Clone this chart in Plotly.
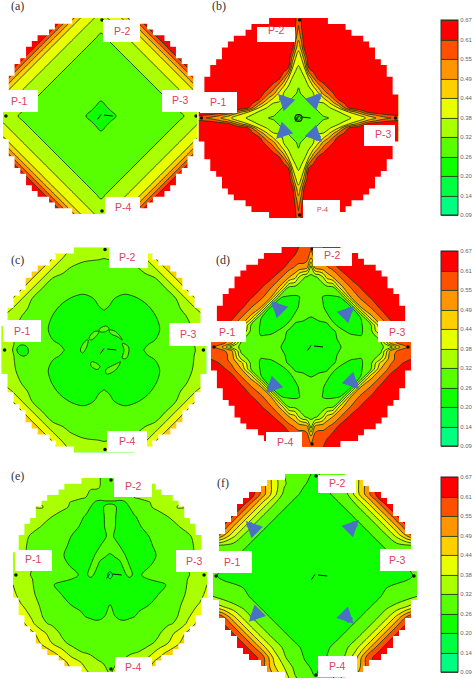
import plotly.graph_objects as go

W, H = 474, 685

BAND_COLORS = ["#00ff80", "#00ff40", "#10ff00", "#58ff00", "#aaff00",
               "#e8ff00", "#ffd000", "#ff9500", "#ff5000", "#ff0000"]
LEVEL_START, LEVEL_END, LEVEL_STEP = 0.09, 0.67, 0.058
TICK_LABELS = ["0.09", "0.14", "0.20", "0.26", "0.32", "0.38", "0.44", "0.49", "0.55", "0.61", "0.67"]

# stepped rim of each disc: half-width (in cells of 1/17) of the rows, centre to top
RIM_HALF_WIDTHS = [17, 17, 17, 17, 16, 16, 16, 15, 15, 14, 13, 13, 12, 11, 9, 8, 5]

# --- panel (a): values read in hundredths, rows v=0..1, columns u=0..1
A_NODES = [0, .1, .2, .3, .4, .5, .6, .7, .8, .9, 1]
A_VALUES = [
    [24, 25.7, 27, 27.5, 28, 29, 29.5, 30.5, 31.5, 33, 36],
    [25.7, 27, 27.5, 28, 29, 29.5, 30.5, 31.5, 33, 36, 39],
    [27, 27.5, 28, 29, 29.5, 30.5, 31.5, 33, 36, 39, 43],
    [27.5, 28, 29, 29.5, 30.5, 31.5, 33, 36, 39, 43, 52],
    [28, 29, 29.5, 30.5, 31.5, 33, 36, 39, 43, 52, 64],
    [29, 29.5, 30.5, 31.5, 33, 36, 39, 43, 52, 64, 66],
    [29.5, 30.5, 31.5, 33, 36, 39, 43, 52, 64, 66, 66],
    [30.5, 31.5, 33, 36, 39, 43, 52, 64, 66, 66, 66],
    [31.5, 33, 36, 39, 43, 52, 64, 66, 66, 66, 66],
    [33, 36, 39, 43, 52, 64, 66, 66, 66, 66, 66],
    [36, 39, 43, 52, 64, 66, 66, 66, 66, 66, 66],
]

# --- panel (b)
B_NODES = [0, .03, .06, .1, .15, .2, .25, .3, .4, .5, .6, .7, .8, .9, 1]
B_VALUES = [
    [26, 26.5, 27, 28, 29, 30, 31, 32, 35, 37, 41, 45, 51, 54.5, 58],
    [26.5, 27, 27.5, 28.5, 29.5, 30.5, 33, 34.5, 36, 39, 44, 52, 57, 61, 62],
    [27, 27.5, 28, 29, 30, 32, 34, 35.5, 37.5, 43.8, 52.5, 63, 66, 66, 66],
    [28, 28.5, 29, 30, 31.5, 34, 35, 36.5, 43.8, 61, 66, 66, 66, 66, 66],
    [29, 29.5, 30, 31.5, 34, 37.5, 38, 42, 55.4, 66, 66, 66, 66, 66, 66],
    [30, 30.5, 32, 34, 37.5, 40, 43.8, 49.6, 64, 66, 66, 66, 66, 66, 66],
    [31, 33, 34, 35, 38, 43.8, 52, 57, 66, 66, 66, 66, 66, 66, 66],
    [32, 34.5, 35.5, 36.5, 42, 49.6, 57, 61.5, 66, 66, 66, 66, 66, 66, 66],
    [35, 36, 37.5, 43.8, 55.4, 64, 66, 66, 66, 66, 66, 66, 66, 66, 66],
    [37, 39, 43.8, 61, 66, 66, 66, 66, 66, 66, 66, 66, 66, 66, 66],
    [41, 44, 52.5, 66, 66, 66, 66, 66, 66, 66, 66, 66, 66, 66, 66],
    [45, 52, 63, 66, 66, 66, 66, 66, 66, 66, 66, 66, 66, 66, 66],
    [51, 57, 66, 66, 66, 66, 66, 66, 66, 66, 66, 66, 66, 66, 66],
    [54.5, 61, 66, 66, 66, 66, 66, 66, 66, 66, 66, 66, 66, 66, 66],
    [58, 62, 66, 66, 66, 66, 66, 66, 66, 66, 66, 66, 66, 66, 66],
]

# --- panel (c)
C_NODES = [0, .05, .1, .2, .3, .4, .5, .6, .7, .8, .9, 1]
C_VALUES = [
    [23, 23, 23.3, 24, 25, 26.6, 28, 29, 30, 31, 32.3, 34],
    [23, 23.2, 23.4, 24, 25, 26, 27.5, 29, 30, 31, 32.5, 34],
    [23.3, 23.4, 23.6, 24, 24.7, 25.6, 26.4, 28.5, 30, 31, 32.6, 35],
    [24, 24, 24, 24.2, 24.5, 25, 25.7, 27.3, 29.5, 31, 33, 36],
    [25, 25, 24.7, 24.5, 24.5, 25, 26, 28, 30, 31.5, 35, 37],
    [26.6, 26, 25.6, 25, 25, 25.5, 27, 29, 31, 33.5, 38, 42],
    [28, 27.5, 26.4, 25.7, 26, 27, 28.5, 30.5, 32, 38, 44, 46],
    [29, 29, 28.5, 27.3, 28, 29, 30.5, 32, 38, 44, 46, 46],
    [30, 30, 30, 29.5, 30, 31, 32, 38, 44, 46, 46, 46],
    [31, 31, 31, 31, 31.5, 33.5, 38, 44, 46, 46, 46, 46],
    [32.3, 32.5, 32.6, 33, 35, 38, 44, 46, 46, 46, 46, 46],
    [34, 34, 35, 36, 37, 42, 46, 46, 46, 46, 46, 46],
]
# patches of the next band round the centre of (c), and the small pocket by P-1
C_PATCH_U = [[-.23, -.19, -.156, -.169, -.21], [-.146, -.097, -.049, -.081, -.13],
             [-.049, .016, .049, .016, -.039], [.049, .114, .179, .13, .065],
             [.179, .24, .22, .179, .195], [.13, .16, .114, .026, .016],
             [-.13, -.114, -.039, -.065, -.123]]
C_PATCH_V = [[0, .08, .1, .03, -.03], [.114, .179, .179, .13, .097],
             [.2, .234, .21, .179, .179], [.195, .179, .097, .13, .16],
             [.065, .03, -.08, -.08, 0], [-.13, -.114, -.195, -.234, -.195],
             [-.13, -.114, -.16, -.19, -.16]]
C_POCKET_U = [-.84, -.8, -.75, -.74, -.78, -.83, -.85]
C_POCKET_V = [.03, .05, .03, -.03, -.06, -.04, 0]

# --- panel (d)
D_NODES = [0, .04, .08, .12, .16, .22, .3, .4, .5, .6, .7, .8, .9, 1]
D_VALUES = [
    [23, 23.2, 23.5, 24, 24.5, 25.5, 26.4, 28, 29, 30, 31, 36, 51, 58],
    [23.2, 23.4, 23.7, 24.2, 24.7, 25.7, 26.6, 28, 29, 30, 31.5, 52, 58, 60],
    [23.5, 23.7, 24, 24.4, 25, 25.8, 27, 27.5, 27.5, 29.5, 33, 54, 58, 61],
    [24, 24.2, 24.4, 25, 25.4, 26, 27, 26.6, 26.2, 29, 38, 54, 58, 61],
    [24.5, 24.7, 25, 25.4, 25.6, 26.2, 27, 25.5, 25.5, 31, 46, 55, 60, 66],
    [25.5, 25.7, 25.8, 26, 26.2, 27, 25.5, 24.5, 25.7, 32, 50, 58, 64, 66],
    [26.4, 26.6, 27, 27, 27, 25.5, 24, 24.5, 26.6, 48, 56, 64, 66, 66],
    [28, 28, 27.5, 26.6, 25.5, 24.5, 24.5, 25.8, 50, 56, 63, 66, 66, 66],
    [29, 29, 27.5, 26.2, 25.5, 25.7, 26.6, 50, 57, 62, 66, 66, 66, 66],
    [30, 30, 29.5, 29, 31, 32, 48, 56, 62, 66, 66, 66, 66, 66],
    [31, 31.5, 33, 38, 46, 50, 56, 63, 66, 66, 66, 66, 66, 66],
    [36, 52, 54, 54, 55, 58, 64, 66, 66, 66, 66, 66, 66, 66],
    [51, 58, 58, 58, 60, 64, 66, 66, 66, 66, 66, 66, 66, 66],
    [58, 60, 61, 61, 66, 66, 66, 66, 66, 66, 66, 66, 66, 66],
]

# --- panel (e): left-right mirrored only, rows from v=-1 up to v=1
E_U_NODES = [0, .05, .1, .15, .2, .25, .3, .4, .5, .6, .7, .8, .9, 1]
E_V_NODES = [-1, -.9, -.8, -.7, -.6, -.5, -.4, -.3, -.2, -.1, 0, .1, .2, .3, .4, .5, .6, .7, .75, .8, .9, 1]
E_VALUES = [
    [32, 32.5, 33.5, 35, 37, 39, 41, 44, 46, 46, 46, 46, 46, 46],
    [31.5, 32, 32.3, 33, 34.5, 36, 38, 42, 46, 46, 46, 46, 46, 46],
    [31, 31, 31, 31, 31.5, 32, 32.4, 35, 41, 45, 47, 47, 47, 47],
    [30, 30, 30, 30, 30, 30, 30.5, 31, 33.5, 38, 43, 47, 47, 47],
    [29, 29, 29, 29, 29, 29, 29.5, 30.5, 31.5, 35, 40, 45, 47, 47],
    [28.5, 28, 27, 27, 27.5, 27.7, 28, 29, 30, 31.5, 33, 39, 45, 47],
    [28, 26, 25.5, 25.2, 25.3, 25.8, 26.8, 28, 29.5, 31, 32, 36, 41, 44],
    [26.3, 25.7, 25.3, 25, 25, 25, 25.2, 26.2, 28, 29.5, 31, 34.5, 37.5, 41],
    [25, 25, 25, 24.8, 24.7, 24.7, 24.8, 25.5, 26.4, 28, 30, 33, 36, 39],
    [24.5, 24.5, 24.5, 24.5, 24.5, 24.5, 24.5, 25, 25.5, 26.7, 29, 32.5, 35, 38],
    [18, 23, 25, 26, 27, 26, 26, 27.5, 28.5, 29.5, 30.5, 32, 33, 36],
    [25, 25.3, 25.8, 27, 26.4, 25, 25, 26.1, 27.5, 28.5, 29.5, 32.2, 35, 38],
    [26, 26.6, 27, 26.7, 25, 24.5, 24.8, 25.5, 26.7, 28, 29.5, 31, 33, 35],
    [28, 27.5, 26.4, 25, 24.5, 24.5, 25, 26, 27, 28.5, 30, 31, 33, 35],
    [27.5, 26, 24.5, 24, 24.5, 25, 25.5, 26.4, 28, 29.5, 30.5, 31.5, 33.5, 36],
    [28, 26.6, 25, 24.5, 25, 25.5, 26, 28, 29.5, 31, 32, 33.5, 35.5, 37],
    [28, 26.7, 25, 25, 25.5, 26, 27, 29, 31, 32.2, 33.5, 38, 37, 38],
    [27.5, 26.8, 25.5, 25.5, 26.4, 28, 29.5, 31.8, 33, 34, 38.5, 38, 37.5, 38],
    [25.8, 25.8, 25.8, 26, 27.5, 29, 30, 32, 33.5, 34.5, 37, 36.5, 37.5, 38],
    [28, 28, 27.3, 28, 29, 32.2, 33, 33.5, 34, 35, 37, 37, 38, 38],
    [31, 31, 32, 33, 33, 33, 33, 34, 34, 35, 36, 38, 38, 38],
    [31, 31, 32.2, 33, 33, 33, 33.5, 34, 35, 36, 37, 38, 38, 38],
]

# --- panel (f): upper and lower quadrants differ
F_NODES = [0, .1, .2, .3, .4, .5, .6, .7, .8, .9, 1]
F_TOP_VALUES = [
    [22, 22.5, 23, 23.3, 23.7, 24, 24.4, 24.8, 25.2, 25.6, 27],
    [22.5, 23, 23.3, 23.7, 24, 24.4, 24.8, 25.2, 25.6, 26.5, 27],
    [23, 23.3, 23.7, 24, 24.4, 24.8, 25.2, 25.6, 27, 28.5, 29],
    [23.3, 23.7, 24, 24.4, 24.8, 25.2, 25.6, 27, 30, 31.5, 33],
    [23.7, 24, 24.4, 24.8, 25.2, 25.6, 27, 32, 40, 51, 62],
    [24, 24.4, 24.8, 25.2, 25.6, 27, 32, 40, 51, 62, 66],
    [24.4, 24.8, 25.2, 25.6, 27, 32, 40, 51, 62, 66, 66],
    [24.8, 25.2, 25.6, 27, 32, 40, 51, 62, 66, 66, 66],
    [25.2, 25.6, 27, 30, 40, 51, 62, 66, 66, 66, 66],
    [25.6, 26.5, 28, 33, 41, 51, 62, 66, 66, 66, 66],
    [26, 27, 29, 32, 40, 51, 62, 66, 66, 66, 66],
]
F_BOTTOM_VALUES = [
    [22, 22.5, 23, 23.4, 23.8, 24.2, 24.7, 25.2, 25.7, 25.8, 26.5],
    [22.5, 23, 23.4, 23.8, 24.2, 24.7, 25.2, 26.2, 26.8, 27.5, 29],
    [23, 23.4, 23.8, 24.2, 24.7, 25.2, 25.7, 27.2, 28, 29.5, 32.2],
    [23.4, 23.8, 24.2, 24.7, 25.2, 25.7, 27.2, 31, 34, 38, 42],
    [23.8, 24.2, 24.7, 25.2, 25.7, 27.2, 31, 36, 45, 56, 64],
    [24.2, 24.7, 25.2, 25.7, 27.2, 31, 36, 45, 56, 64, 66],
    [24.7, 25.2, 25.7, 27.2, 31, 36, 45, 56, 64, 66, 66],
    [25.2, 25.7, 27.2, 31, 36, 45, 56, 64, 66, 66, 66],
    [25.7, 26.2, 28, 33, 42, 56, 64, 66, 66, 66, 66],
    [25.9, 27, 31, 38, 45, 56, 64, 66, 66, 66, 66],
    [26.5, 29, 33, 42, 50, 60, 66, 66, 66, 66, 66],
]

# --- pixel frame of each disc: centre x, centre y, radius
PANEL_NAMES = ["a", "b", "c", "d", "e", "f"]
PANEL_FRAMES = [(101, 116, 98), (298.5, 118, 100), (104, 350, 102.5),
                (311, 347, 100), (110, 575, 97), (315, 576, 102)]
LETTER_X = [17, 219, 17, 223, 17, 223]
LETTER_Y = [6, 6, 260, 260, 476, 483]

# --- white label boxes: left, top, right, bottom, text x, text y, text
LABELS_A = [(103, 20, 140, 42, 122, 31, "P-2"), (0, 90, 38, 112, 19, 101, "P-1"),
            (162, 90, 200, 112, 180, 100, "P-3"), (105, 197, 140, 217, 123, 207, "P-4")]
LABELS_B = [(257, 27, 295, 42, 276, 30, "P-2"), (200, 92, 237, 113, 218, 102, "P-1"),
            (364, 125, 395, 146, 383, 134, "P-3"), (303, 200, 340, 218, 322, 209, "P-4")]
LABELS_C = [(109, 247, 148, 268, 128, 257, "P-2"), (3, 320, 41, 342, 22, 331, "P-1"),
            (169, 323, 207, 346, 188, 334, "P-3"), (107, 431, 147, 452, 127, 441, "P-4")]
LABELS_D = [(313, 248, 352, 266, 332, 255, "P-2"), (211, 321, 246, 342, 227, 332, "P-1"),
            (378, 321, 416, 342, 397, 332, "P-3"), (266, 432, 302, 448, 285, 442, "P-4")]
LABELS_E = [(114, 478, 152, 497, 133, 486, "P-2"), (15, 550, 52, 571, 33, 559, "P-1"),
            (176, 550, 209, 572, 194, 561, "P-3"), (115, 657, 152, 672, 133, 667, "P-4")]
LABELS_F = [(318, 475, 356, 493, 337, 483, "P-2"), (213, 551, 252, 573, 232, 562, "P-1"),
            (380, 549, 418, 571, 397, 560, "P-3"), (318, 656, 357, 677, 337, 666, "P-4")]

# --- blue arrows: centre u, v
ARROWS_B = ([-.155, .185, -.175, .185], [.19, .2, -.16, -.19])
ARROWS_D = ([-.35, .38, -.4, .43], [.41, .36, -.41, -.37])
ARROWS_F = ([-.63, .38, -.6, .33], [.49, .5, -.4, -.42])

# --- black probe dots of each panel
DOT_U = [0.01, -0.97, 0.97, 0.01]
DOT_V = [0.98, 0, 0, -0.97]
# centre glyph
GLYPH_U = [-.035, 0, None, .03, .12]
GLYPH_V = [-.035, .015, None, .01, .0]
COLORBAR_TOPS = [20, 251, 477]
COLORBAR_LEN = 195


def mirror_axis(nodes):
    return [-n for n in nodes[:0:-1]] + list(nodes)


def mirror_row(row):
    return list(row[:0:-1]) + list(row)


def mirror_quadrant(rows):
    return [mirror_row(r) for r in rows[:0:-1]] + [mirror_row(r) for r in rows]


PANEL_GRIDS = {
    "a": (mirror_axis(A_NODES), mirror_axis(A_NODES), mirror_quadrant(A_VALUES)),
    "b": (mirror_axis(B_NODES), mirror_axis(B_NODES), mirror_quadrant(B_VALUES)),
    "c": (mirror_axis(C_NODES), mirror_axis(C_NODES), mirror_quadrant(C_VALUES)),
    "d": (mirror_axis(D_NODES), mirror_axis(D_NODES), mirror_quadrant(D_VALUES)),
    "e": (mirror_axis(E_U_NODES), E_V_NODES, [mirror_row(r) for r in E_VALUES]),
    "f": (mirror_axis(F_NODES), mirror_axis(F_NODES),
          [mirror_row(r) for r in F_BOTTOM_VALUES[:0:-1]] + [mirror_row(r) for r in F_TOP_VALUES]),
}

n_bands = len(BAND_COLORS)
colorscale = []
for i, c in enumerate(BAND_COLORS):
    colorscale += [[i / n_bands, c], [(i + 1) / n_bands, c]]

level_ticks = [LEVEL_START + i * LEVEL_STEP for i in range(n_bands + 1)]

# white surround: outer square, then the stepped rim walked once round the other way
n_half = len(RIM_HALF_WIDTHS)
right_x, right_y = [], []
for j in range(n_half - 1, -1, -1):
    right_x += [RIM_HALF_WIDTHS[j] / n_half] * 2
    right_y += [(j + 1) / n_half, j / n_half]
for j in range(n_half):
    right_x += [RIM_HALF_WIDTHS[j] / n_half] * 2
    right_y += [-j / n_half, -(j + 1) / n_half]
rim_x = right_x + [-v for v in right_x[::-1]]
rim_y = right_y + right_y[::-1]
rim_x, rim_y = rim_x[::-1], rim_y[::-1]
surround_x = [1.05, 1.05, -1.05, -1.05, 1.05] + rim_x + [rim_x[0], 1.05]
surround_y = [1.05, -1.05, -1.05, 1.05, 1.05] + rim_y + [rim_y[0], 1.05]

fig = go.Figure()
layout_axes = {}
annotations = []
shapes = []
CONTOUR_LINE = "#1f3b10"
all_labels = [LABELS_A, LABELS_B, LABELS_C, LABELS_D, LABELS_E, LABELS_F]
arrow_sets = {"b": ARROWS_B, "d": ARROWS_D, "f": ARROWS_F}
colorbar_panels = {"b": 0, "d": 1, "f": 2}

for idx, name in enumerate(PANEL_NAMES):
    cx, cy, r = PANEL_FRAMES[idx]
    sfx = "" if idx == 0 else str(idx + 1)
    xa, ya = f"x{sfx}", f"y{sfx}"
    layout_axes[f"xaxis{sfx}"] = dict(domain=[(cx - r * 1.01) / W, (cx + r * 1.01) / W], range=[-1.01, 1.01],
                                      visible=False, fixedrange=True)
    layout_axes[f"yaxis{sfx}"] = dict(domain=[1 - (cy + r * 1.01) / H, 1 - (cy - r * 1.01) / H], range=[-1.01, 1.01],
                                      visible=False, fixedrange=True)
    x, y, z = PANEL_GRIDS[name]
    z = [[v / 100 for v in row] for row in z]
    trace = dict(x=x, y=y, z=z, xaxis=xa, yaxis=ya, zmin=LEVEL_START, zmax=LEVEL_END,
                 colorscale=colorscale, autocontour=False,
                 contours=dict(start=LEVEL_START, end=LEVEL_END, size=LEVEL_STEP, coloring="fill", showlines=True),
                 line=dict(color=CONTOUR_LINE, width=0.9, smoothing=1),
                 hoverinfo="skip", showscale=False)
    if name in colorbar_panels:
        top = COLORBAR_TOPS[colorbar_panels[name]]
        trace.update(showscale=True, colorbar=dict(
            x=441 / W, xanchor="left", y=1 - top / H, yanchor="top",
            lenmode="pixels", len=COLORBAR_LEN, thicknessmode="pixels", thickness=17,
            xpad=0, ypad=0, outlinecolor="#333333", outlinewidth=1,
            tickmode="array", tickvals=level_ticks, ticktext=TICK_LABELS,
            ticks="", tickfont=dict(size=6, color="#666666", family="Liberation Sans")))
    fig.add_trace(go.Contour(**trace))

    if name == "c":
        for pu, pv in zip(C_PATCH_U, C_PATCH_V):
            fig.add_trace(go.Scatter(x=pu + pu[:1], y=pv + pv[:1], xaxis=xa, yaxis=ya, mode="lines", fill="toself",
                                     fillcolor=BAND_COLORS[3], line=dict(color=CONTOUR_LINE, width=0.9, shape="spline"),
                                     hoverinfo="skip", showlegend=False))
        fig.add_trace(go.Scatter(x=C_POCKET_U + C_POCKET_U[:1], y=C_POCKET_V + C_POCKET_V[:1], xaxis=xa, yaxis=ya,
                                 mode="lines", fill="toself", fillcolor=BAND_COLORS[2],
                                 line=dict(color=CONTOUR_LINE, width=0.9, shape="spline"),
                                 hoverinfo="skip", showlegend=False))

    fig.add_trace(go.Scatter(x=surround_x, y=surround_y, xaxis=xa, yaxis=ya, mode="lines", fill="toself",
                             fillcolor="white", line=dict(color="white", width=0),
                             hoverinfo="skip", showlegend=False))

    fig.add_trace(go.Scatter(x=GLYPH_U, y=GLYPH_V, xaxis=xa, yaxis=ya, mode="lines",
                             line=dict(color="#111111", width=1), hoverinfo="skip", showlegend=False))
    fig.add_trace(go.Scatter(x=DOT_U, y=DOT_V, xaxis=xa, yaxis=ya, mode="markers",
                             marker=dict(color="#111111", size=3.5), hoverinfo="skip", showlegend=False))
    if name == "b":
        fig.add_trace(go.Scatter(x=[0], y=[0], xaxis=xa, yaxis=ya, mode="markers",
                                 marker=dict(color="rgba(0,0,0,0)", size=7, line=dict(color="#111111", width=1.2)),
                                 hoverinfo="skip", showlegend=False))
    if name in arrow_sets:
        au, av = arrow_sets[name]
        for u, v in zip(au, av):
            sx = 1 if u > 0 else -1
            sy = 1 if v > 0 else -1
            annotations.append(dict(x=u + sx * 5 / r, y=v + sy * 5 / r, xref=xa, yref=ya,
                                    ax=-sx * 9, ay=sy * 9, axref="pixel", ayref="pixel", text="",
                                    showarrow=True, arrowhead=2, arrowsize=0.5, arrowwidth=6.5,
                                    arrowcolor="#4a72c4"))

    annotations.append(dict(x=LETTER_X[idx] / W, y=1 - LETTER_Y[idx] / H, xref="paper", yref="paper",
                            text=f"({name})", showarrow=False, xanchor="center", yanchor="middle",
                            font=dict(size=12, color="#333333", family="Liberation Serif")))
    for x0, y0, x1, y1, tx, ty, text in all_labels[idx]:
        shapes.append(dict(type="rect", xref="paper", yref="paper", x0=x0 / W, x1=x1 / W,
                           y0=1 - y1 / H, y1=1 - y0 / H, fillcolor="white", line=dict(width=0), layer="above"))
        small = name == "b" and text == "P-4"
        annotations.append(dict(x=tx / W, y=1 - ty / H, xref="paper", yref="paper", text=text, showarrow=False,
                                xanchor="center", yanchor="middle",
                                font=dict(size=7 if small else 10.5, color="#e0405a", family="Liberation Sans")))

fig.update_layout(width=W, height=H, autosize=False, showlegend=False,
                  margin=dict(l=0, r=0, t=0, b=0, autoexpand=False),
                  paper_bgcolor="white", plot_bgcolor="white",
                  shapes=shapes, annotations=annotations, **layout_axes)

fig.write_html("out.html", config={"displayModeBar": False}, post_script="document.body.style.margin='0';")
